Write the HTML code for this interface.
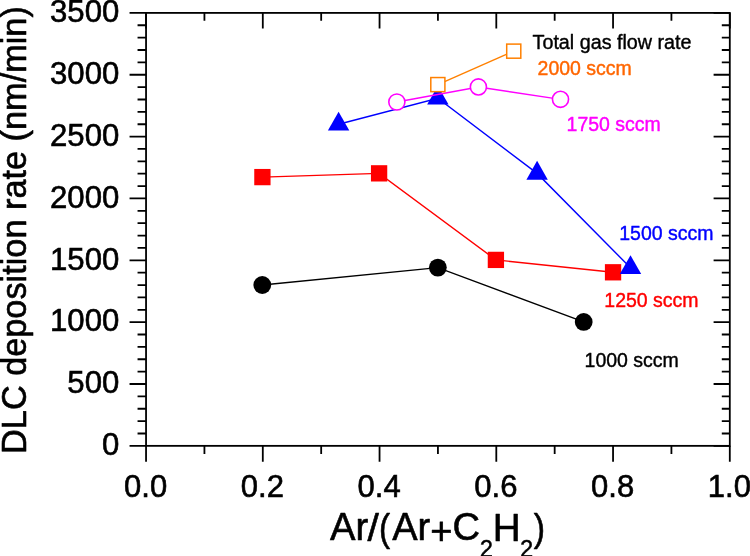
<!DOCTYPE html>
<html><head><meta charset="utf-8"><title>DLC deposition rate vs Ar/(Ar+C2H2)</title>
<style>html,body{margin:0;padding:0;background:#fff;overflow:hidden;}svg{display:block;}</style></head>
<body><svg width="750" height="556" viewBox="0 0 750 556">
<rect width="750" height="556" fill="#fff"/>
<rect x="146.05" y="12.9" width="583.75" height="432.95" fill="none" stroke="#000" stroke-width="1.8"/>
<path d="M129.55 445.85H146.05M713.60 445.85H729.8M137.55 433.48H146.05M721.80 433.48H729.8M137.55 421.11H146.05M721.80 421.11H729.8M137.55 408.74H146.05M721.80 408.74H729.8M137.55 396.37H146.05M721.80 396.37H729.8M129.55 384.00H146.05M713.60 384.00H729.8M137.55 371.63H146.05M721.80 371.63H729.8M137.55 359.26H146.05M721.80 359.26H729.8M137.55 346.89H146.05M721.80 346.89H729.8M137.55 334.52H146.05M721.80 334.52H729.8M129.55 322.15H146.05M713.60 322.15H729.8M137.55 309.78H146.05M721.80 309.78H729.8M137.55 297.41H146.05M721.80 297.41H729.8M137.55 285.04H146.05M721.80 285.04H729.8M137.55 272.67H146.05M721.80 272.67H729.8M129.55 260.30H146.05M713.60 260.30H729.8M137.55 247.93H146.05M721.80 247.93H729.8M137.55 235.56H146.05M721.80 235.56H729.8M137.55 223.19H146.05M721.80 223.19H729.8M137.55 210.82H146.05M721.80 210.82H729.8M129.55 198.45H146.05M713.60 198.45H729.8M137.55 186.08H146.05M721.80 186.08H729.8M137.55 173.71H146.05M721.80 173.71H729.8M137.55 161.34H146.05M721.80 161.34H729.8M137.55 148.97H146.05M721.80 148.97H729.8M129.55 136.60H146.05M713.60 136.60H729.8M137.55 124.23H146.05M721.80 124.23H729.8M137.55 111.86H146.05M721.80 111.86H729.8M137.55 99.49H146.05M721.80 99.49H729.8M137.55 87.12H146.05M721.80 87.12H729.8M129.55 74.75H146.05M713.60 74.75H729.8M137.55 62.38H146.05M721.80 62.38H729.8M137.55 50.01H146.05M721.80 50.01H729.8M137.55 37.64H146.05M721.80 37.64H729.8M137.55 25.27H146.05M721.80 25.27H729.8M129.55 12.90H146.05M713.60 12.90H729.8M146.05 445.85V461.85M146.05 12.9V28.50M204.43 445.85V454.05M204.43 12.9V20.70M262.80 445.85V461.85M262.80 12.9V28.50M321.18 445.85V454.05M321.18 12.9V20.70M379.55 445.85V461.85M379.55 12.9V28.50M437.93 445.85V454.05M437.93 12.9V20.70M496.30 445.85V461.85M496.30 12.9V28.50M554.67 445.85V454.05M554.67 12.9V20.70M613.05 445.85V461.85M613.05 12.9V28.50M671.42 445.85V454.05M671.42 12.9V20.70M729.80 445.85V461.85M729.80 12.9V28.50" stroke="#000" stroke-width="1.8" fill="none"/>
<text class="ytick" transform="translate(119.28 455.13) scale(1.0215 1.0225)" font-size="30.5" text-anchor="end" stroke="#000" stroke-width="0.6" font-family="'Liberation Sans', Arial, Helvetica, sans-serif">0</text>
<text class="ytick" transform="translate(119.28 393.28) scale(1.0215 1.0225)" font-size="30.5" text-anchor="end" stroke="#000" stroke-width="0.6" font-family="'Liberation Sans', Arial, Helvetica, sans-serif">500</text>
<text class="ytick" transform="translate(119.28 331.43) scale(1.0215 1.0225)" font-size="30.5" text-anchor="end" stroke="#000" stroke-width="0.6" font-family="'Liberation Sans', Arial, Helvetica, sans-serif">1000</text>
<text class="ytick" transform="translate(119.28 269.58) scale(1.0215 1.0225)" font-size="30.5" text-anchor="end" stroke="#000" stroke-width="0.6" font-family="'Liberation Sans', Arial, Helvetica, sans-serif">1500</text>
<text class="ytick" transform="translate(119.28 207.73) scale(1.0215 1.0225)" font-size="30.5" text-anchor="end" stroke="#000" stroke-width="0.6" font-family="'Liberation Sans', Arial, Helvetica, sans-serif">2000</text>
<text class="ytick" transform="translate(119.28 145.88) scale(1.0215 1.0225)" font-size="30.5" text-anchor="end" stroke="#000" stroke-width="0.6" font-family="'Liberation Sans', Arial, Helvetica, sans-serif">2500</text>
<text class="ytick" transform="translate(119.28 84.03) scale(1.0215 1.0225)" font-size="30.5" text-anchor="end" stroke="#000" stroke-width="0.6" font-family="'Liberation Sans', Arial, Helvetica, sans-serif">3000</text>
<text class="ytick" transform="translate(119.28 22.18) scale(1.0215 1.0225)" font-size="30.5" text-anchor="end" stroke="#000" stroke-width="0.6" font-family="'Liberation Sans', Arial, Helvetica, sans-serif">3500</text>
<text class="xtick" transform="translate(145.65 496.99) scale(1.0174 1.0450)" font-size="30.5" text-anchor="middle" stroke="#000" stroke-width="0.6" font-family="'Liberation Sans', Arial, Helvetica, sans-serif">0.0</text>
<text class="xtick" transform="translate(262.40 496.99) scale(1.0174 1.0450)" font-size="30.5" text-anchor="middle" stroke="#000" stroke-width="0.6" font-family="'Liberation Sans', Arial, Helvetica, sans-serif">0.2</text>
<text class="xtick" transform="translate(379.15 496.99) scale(1.0174 1.0450)" font-size="30.5" text-anchor="middle" stroke="#000" stroke-width="0.6" font-family="'Liberation Sans', Arial, Helvetica, sans-serif">0.4</text>
<text class="xtick" transform="translate(495.90 496.99) scale(1.0174 1.0450)" font-size="30.5" text-anchor="middle" stroke="#000" stroke-width="0.6" font-family="'Liberation Sans', Arial, Helvetica, sans-serif">0.6</text>
<text class="xtick" transform="translate(612.65 496.99) scale(1.0174 1.0450)" font-size="30.5" text-anchor="middle" stroke="#000" stroke-width="0.6" font-family="'Liberation Sans', Arial, Helvetica, sans-serif">0.8</text>
<text class="xtick" transform="translate(729.40 496.99) scale(1.0174 1.0450)" font-size="30.5" text-anchor="middle" stroke="#000" stroke-width="0.6" font-family="'Liberation Sans', Arial, Helvetica, sans-serif">1.0</text>
<text class="ytitle" transform="translate(25.96 453.93) rotate(-90) scale(0.9938 1.0412)" font-size="34.5" fill="#000" stroke="#000" stroke-width="0.6" stroke-linejoin="round" font-family="'Liberation Sans', Arial, Helvetica, sans-serif">DLC deposition rate (nm/min)</text>
<text class="xt_Ar1" transform="translate(330.05 540.02) scale(1.0061 1.0285)" font-size="38.0" fill="#000" stroke="#000" stroke-width="0.6" stroke-linejoin="round" font-family="'Liberation Sans', Arial, Helvetica, sans-serif">Ar</text>
<text class="xt_sl" transform="translate(367.38 540.94) scale(1.0748 1.0354)" font-size="38.0" fill="#000" stroke="#000" stroke-width="0.6" stroke-linejoin="round" font-family="'Liberation Sans', Arial, Helvetica, sans-serif">/</text>
<text class="xt_lp" transform="translate(379.01 541.03) scale(0.8783 1.0071)" font-size="38.0" fill="#000" stroke="#000" stroke-width="0.6" stroke-linejoin="round" font-family="'Liberation Sans', Arial, Helvetica, sans-serif">(</text>
<text class="xt_main" transform="translate(392.15 539.80) scale(1.0027 1.0176)" font-size="38.0" fill="#000" stroke="#000" stroke-width="0.6" stroke-linejoin="round" font-family="'Liberation Sans', Arial, Helvetica, sans-serif">Ar<tspan dy="4.32">+</tspan><tspan dy="-4.32">C</tspan></text>
<text class="xt_s1" transform="translate(479.68 557.01) scale(0.9900 1.0300)" font-size="24.0" fill="#000" stroke="#000" stroke-width="0.45" stroke-linejoin="round" font-family="'Liberation Sans', Arial, Helvetica, sans-serif">2</text>
<text class="xt_H" transform="translate(492.66 540.98) scale(1.0173 1.0430)" font-size="38.0" fill="#000" stroke="#000" stroke-width="0.6" stroke-linejoin="round" font-family="'Liberation Sans', Arial, Helvetica, sans-serif">H</text>
<text class="xt_s2" transform="translate(519.98 557.04) scale(0.9900 1.0300)" font-size="24.0" fill="#000" stroke="#000" stroke-width="0.45" stroke-linejoin="round" font-family="'Liberation Sans', Arial, Helvetica, sans-serif">2</text>
<text class="xt_p" transform="translate(533.77 541.02) scale(0.8930 1.0015)" font-size="38.0" fill="#000" stroke="#000" stroke-width="0.6" stroke-linejoin="round" font-family="'Liberation Sans', Arial, Helvetica, sans-serif">)</text>
<path d="M262.30 285.00L437.85 267.60L583.70 321.95" stroke="#000" stroke-width="1.4" fill="none"/>
<circle cx="262.3" cy="285.0" r="8.9" fill="#000"/>
<circle cx="437.85" cy="267.6" r="8.9" fill="#000"/>
<circle cx="583.7" cy="321.95" r="8.9" fill="#000"/>
<path d="M262.40 177.10L379.10 173.35L495.90 259.90L613.05 272.30" stroke="#ff0000" stroke-width="1.4" fill="none"/>
<rect x="254.25" y="168.95" width="16.3" height="16.3" fill="#ff0000"/>
<rect x="370.95" y="165.20" width="16.3" height="16.3" fill="#ff0000"/>
<rect x="487.75" y="251.75" width="16.3" height="16.3" fill="#ff0000"/>
<rect x="604.90" y="264.15" width="16.3" height="16.3" fill="#ff0000"/>
<path d="M338.60 124.20L437.85 98.30L537.10 173.40L630.50 267.80" stroke="#0000ff" stroke-width="1.4" fill="none"/>
<path d="M338.60 111.67L349.30 130.47L327.90 130.47Z" fill="#0000ff"/>
<path d="M437.85 85.77L448.55 104.57L427.15 104.57Z" fill="#0000ff"/>
<path d="M537.10 160.87L547.80 179.67L526.40 179.67Z" fill="#0000ff"/>
<path d="M630.50 255.27L641.20 274.07L619.80 274.07Z" fill="#0000ff"/>
<path d="M396.85 102.00L478.40 86.95L560.50 99.35" stroke="#ff00ff" stroke-width="1.4" fill="none"/>
<circle cx="396.85" cy="102.0" r="8.05" fill="#fff" stroke="#ff00ff" stroke-width="1.6"/>
<circle cx="478.4" cy="86.95" r="8.05" fill="#fff" stroke="#ff00ff" stroke-width="1.6"/>
<circle cx="560.5" cy="99.35" r="8.05" fill="#fff" stroke="#ff00ff" stroke-width="1.6"/>
<path d="M437.85 84.60L513.75 51.15" stroke="#ff8000" stroke-width="1.4" fill="none"/>
<rect x="430.80" y="77.55" width="14.1" height="14.1" fill="#fff" stroke="#ff8000" stroke-width="1.5"/>
<rect x="506.70" y="44.10" width="14.1" height="14.1" fill="#fff" stroke="#ff8000" stroke-width="1.5"/>
<text class="lg_title" transform="translate(532.55 48.95) scale(1.0123 1.0039)" font-size="19.5" fill="#000" stroke="#000" stroke-width="0.4" stroke-linejoin="round" font-family="'Liberation Sans', Arial, Helvetica, sans-serif">Total gas flow rate</text>
<text class="lg_2000" transform="translate(537.59 75.01) scale(1.0000 1.0400)" font-size="19.5" fill="#ff6600" stroke="#ff6600" stroke-width="0.4" stroke-linejoin="round" font-family="'Liberation Sans', Arial, Helvetica, sans-serif">2000 sccm</text>
<text class="lg_1750" transform="translate(566.59 131.01) scale(1.0000 1.0400)" font-size="19.5" fill="#ff00ff" stroke="#ff00ff" stroke-width="0.4" stroke-linejoin="round" font-family="'Liberation Sans', Arial, Helvetica, sans-serif">1750 sccm</text>
<text class="lg_1500" transform="translate(619.25 240.03) scale(1.0000 1.0400)" font-size="19.5" fill="#0000ff" stroke="#0000ff" stroke-width="0.4" stroke-linejoin="round" font-family="'Liberation Sans', Arial, Helvetica, sans-serif">1500 sccm</text>
<text class="lg_1250" transform="translate(604.32 306.97) scale(1.0000 1.0400)" font-size="19.5" fill="#ff0000" stroke="#ff0000" stroke-width="0.4" stroke-linejoin="round" font-family="'Liberation Sans', Arial, Helvetica, sans-serif">1250 sccm</text>
<text class="lg_1000" transform="translate(584.59 366.97) scale(1.0000 1.0400)" font-size="19.5" fill="#000" stroke="#000" stroke-width="0.4" stroke-linejoin="round" font-family="'Liberation Sans', Arial, Helvetica, sans-serif">1000 sccm</text>
</svg></body></html>
